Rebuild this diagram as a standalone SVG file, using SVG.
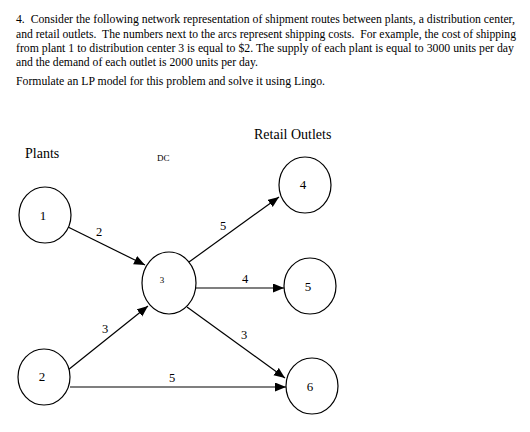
<svg xmlns="http://www.w3.org/2000/svg" width="530" height="432" viewBox="0 0 530 432">
<style>
  text { font-family: "Liberation Serif", "Times New Roman", serif; fill: #000; }
  .para { font-size: 11.5px; white-space: pre; }
  .hdr { font-size: 14px; }
  .small { font-size: 9px; }
  .nlbl { font-size: 13px; text-anchor: middle; }
  .elbl { font-size: 12.5px; text-anchor: middle; }
  .node { fill: #fff; stroke: #000; stroke-width: 1.2; }
  .edge { stroke: #000; stroke-width: 1.2; fill: none; marker-end: url(#arrow); }
</style>
<defs>
  <marker id="arrow" markerUnits="userSpaceOnUse" markerWidth="12" markerHeight="10" refX="11" refY="4.5" orient="auto">
    <path d="M0,0 L11,4.5 L0,9 Z" fill="#000"/>
  </marker>
</defs>
<rect width="530" height="432" fill="#fff"/>
<g id="question">
  <text class="para" x="16" y="23" textLength="499" lengthAdjust="spacingAndGlyphs">4.  Consider the following network representation of shipment routes between plants, a distribution center,</text>
  <text class="para" x="16" y="37.5" textLength="500" lengthAdjust="spacingAndGlyphs">and retail outlets.  The numbers next to the arcs represent shipping costs.  For example, the cost of shipping</text>
  <text class="para" x="16" y="51.5" textLength="498" lengthAdjust="spacingAndGlyphs">from plant 1 to distribution center 3 is equal to $2. The supply of each plant is equal to 3000 units per day</text>
  <text class="para" x="16" y="65.5" textLength="242" lengthAdjust="spacingAndGlyphs">and the demand of each outlet is 2000 units per day.</text>
  <text class="para" x="16" y="85" textLength="309" lengthAdjust="spacingAndGlyphs">Formulate an LP model for this problem and solve it using Lingo.</text>
</g>
<g id="headers">
  <text class="hdr" x="25" y="158">Plants</text>
  <text class="small" x="157" y="161">DC</text>
  <text class="hdr" x="254" y="139">Retail Outlets</text>
</g>
<g id="connectors">
  <line class="edge" x1="68" y1="227" x2="145" y2="265"/>
  <line class="edge" x1="68" y1="370" x2="148" y2="306"/>
  <line class="edge" x1="189" y1="262" x2="279" y2="197"/>
  <line class="edge" x1="196" y1="288" x2="284" y2="288"/>
  <line class="edge" x1="187" y1="307" x2="285" y2="378"/>
  <line class="edge" x1="70" y1="387" x2="286" y2="387"/>
  <text class="elbl" x="99" y="236">2</text>
  <text class="elbl" x="105" y="333">3</text>
  <text class="elbl" x="223" y="230">5</text>
  <text class="elbl" x="245" y="283">4</text>
  <text class="elbl" x="244" y="339">3</text>
  <text class="elbl" x="172" y="382">5</text>
</g>
<g id="node1">
  <ellipse class="node" cx="45" cy="215" rx="26" ry="28"/>
  <text class="nlbl" x="43" y="220">1</text>
</g>
<g id="node2">
  <ellipse class="node" cx="44" cy="377" rx="26" ry="28"/>
  <text class="nlbl" x="42" y="381">2</text>
</g>
<g id="node3">
  <ellipse class="node" cx="169" cy="283" rx="27" ry="31"/>
  <text class="nlbl" x="162" y="283" style="font-size:9px">3</text>
</g>
<g id="node4">
  <ellipse class="node" cx="305" cy="185" rx="26" ry="28"/>
  <text class="nlbl" x="303" y="189">4</text>
</g>
<g id="node5">
  <ellipse class="node" cx="310" cy="286" rx="26" ry="28"/>
  <text class="nlbl" x="308" y="291">5</text>
</g>
<g id="node6">
  <ellipse class="node" cx="312" cy="386" rx="26" ry="28"/>
  <text class="nlbl" x="310" y="391">6</text>
</g>
</svg>
